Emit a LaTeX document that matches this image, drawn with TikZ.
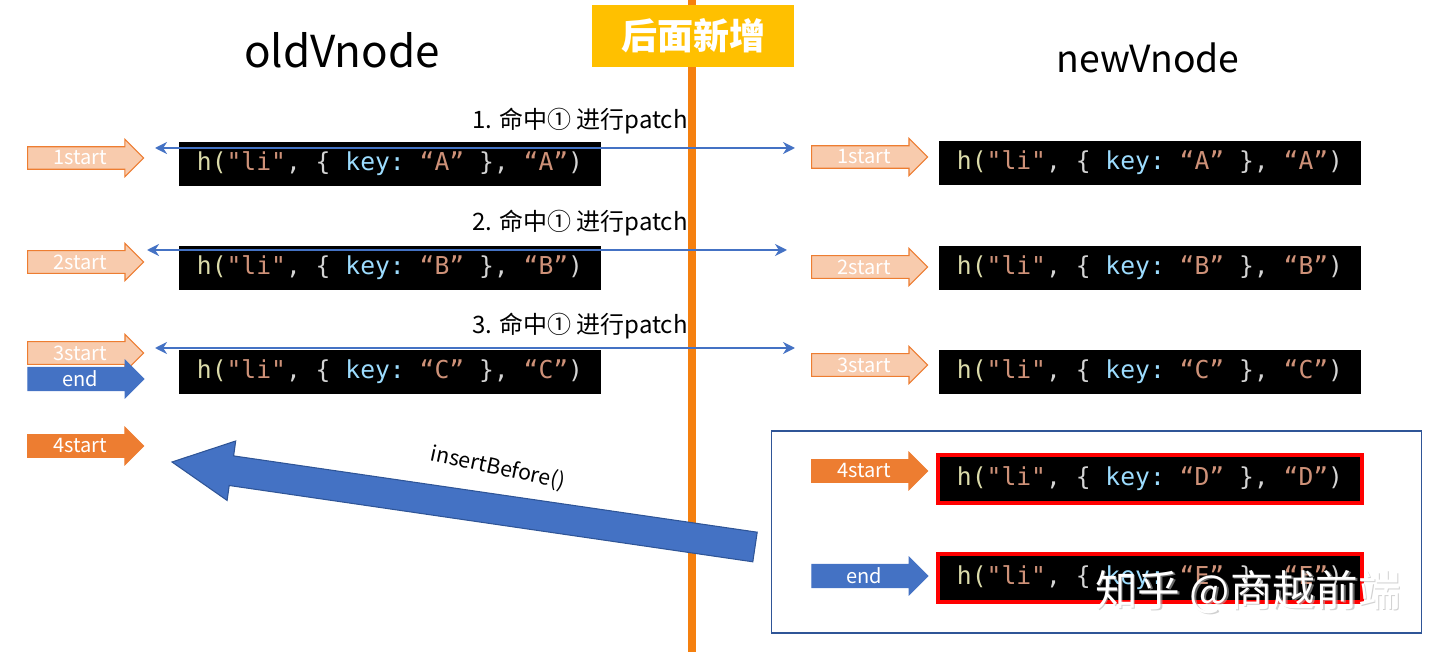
\documentclass[tikz,border=0pt]{standalone}
\usepackage{fontspec}
\setmainfont{Noto Sans CJK SC}
\newfontfamily\codefont{DejaVu Sans Mono}
\usetikzlibrary{shapes.arrows,arrows.meta}
\definecolor{vor}{HTML}{F5800F}
\definecolor{peach}{HTML}{F8CBAD}
\definecolor{aor}{HTML}{ED7D31}
\definecolor{ablue}{HTML}{4472C4}
\definecolor{dblue}{HTML}{2F5597}
\definecolor{cy}{HTML}{DCDCAA}
\definecolor{cs}{HTML}{CE9178}
\definecolor{ck}{HTML}{9CDCFE}
\definecolor{cw}{HTML}{D4D4D4}
\newcommand{\codeline}[1]{\textcolor{cy}{h(}\textcolor{cs}{"li"}\textcolor{cw}{,\ \{\ }\textcolor{ck}{key:}\textcolor{cs}{\ “#1”}\textcolor{cw}{\ \},\ }\textcolor{cs}{“#1”}\textcolor{cw}{)}}
\tikzset{
 codebox/.style={fill=black,minimum width=316.5pt,minimum height=33pt,inner sep=0pt,font=\codefont\fontsize{18.5}{20}\selectfont},
 redbox/.style={codebox,draw=red,line width=3.5pt,minimum width=318pt,minimum height=36pt},
 sarrow/.style={single arrow,single arrow head extend=4.5pt,minimum height=87pt,minimum width=28pt,inner sep=1pt,text=white,font=\fontsize{15}{15}\selectfont,line width=0.8pt},
 peacharrow/.style={sarrow,fill=peach,draw=aor},
 orarrow/.style={sarrow,fill=aor,draw=aor},
 bluearrow/.style={sarrow,fill=ablue,draw=ablue},
 link/.style={ablue,line width=2.2pt,{Stealth[length=9pt,width=9pt]}-{Stealth[length=9pt,width=9pt]}},
 lbl/.style={anchor=east,font=\fontsize{18}{18}\selectfont,inner sep=0pt}
}
\begin{document}
\begin{tikzpicture}[x=0.75pt,y=-0.75pt]
\useasboundingbox (0,0) rectangle (1440,652);
% divider
\draw[vor,line width=6pt] (692,0) -- (692,652);
\node[fill={rgb,255:red,255;green,192;blue,0},minimum width=152pt,minimum height=47pt,text=white,font=\bfseries\fontsize{27}{27}\selectfont] (hdr) at (693,36) {后面新增};
\node[font=\fontsize{33}{33}\selectfont] (old) at (342,50) {oldVnode};
\node[font=\fontsize{28}{28}\selectfont] (new) at (1148,58) {newVnode};
% left code
\node[codebox] (la) at (390,164) {\codeline{A}};
\node[codebox] (lb) at (390,268) {\codeline{B}};
\node[codebox] (lc) at (390,372) {\codeline{C}};
% right code
\node[codebox] (ra) at (1150,163) {\codeline{A}};
\node[codebox] (rb) at (1150,268) {\codeline{B}};
\node[codebox] (rc) at (1150,372) {\codeline{C}};
\node[draw=dblue,line width=0.8pt,minimum width=488pt,minimum height=151.5pt] (grp) at (1096.5,532) {};
\node[redbox] (rd) at (1150,479) {\codeline{D}};
\node[redbox] (re) at (1150,578) {\codeline{E}};
% left arrows
\node[peacharrow] (l1) at (80,158) {1start};
\node[peacharrow] (l2) at (80,262) {2start};
\node[peacharrow] (l3) at (80,353) {3start};
\node[bluearrow] (le) at (80,379) {end};
\node[orarrow] (l4) at (80,446) {4start};
% right arrows
\node[peacharrow] (r1) at (864,157) {1start};
\node[peacharrow] (r2) at (864,267) {2start};
\node[peacharrow] (r3) at (864,365) {3start};
\node[orarrow] (r4) at (864,471) {4start};
\node[bluearrow] (r5) at (864,576) {end};
% patch links
\coordinate (p1l) at (155,148); \coordinate (p1r) at (795,148);
\coordinate (p2l) at (147,250); \coordinate (p2r) at (787,250);
\coordinate (p3l) at (155,348); \coordinate (p3r) at (795,348);
\draw[link] (p1l) -- (p1r);
\draw[link] (p2l) -- (p2r);
\draw[link] (p3l) -- (p3r);
\node[lbl] (t1) at (688,121) {1. 命中① 进行patch};
\node[lbl] (t2) at (688,223) {2. 命中① 进行patch};
\node[lbl] (t3) at (688,326) {3. 命中① 进行patch};
% big insert arrow
\fill[ablue,draw=dblue,line width=0.8pt] (757.2,532.2) -- (233.6,455.9) -- (235.7,441.0) -- (172,462) -- (227.1,500.4) -- (229.2,485.5) -- (752.8,561.8) -- cycle;
\node[rotate=-12,font=\fontsize{16}{16}\selectfont] (ib) at (498,468) {insertBefore()};
% watermark
\node[text=gray!60,opacity=0.6,font=\fontsize{32}{32}\selectfont] (wms) at (1249.5,593.5) {知乎 @商越前端};
\node[text=white,font=\fontsize{32}{32}\selectfont] (wm) at (1248,592) {知乎 @商越前端};
\end{tikzpicture}
\end{document}
